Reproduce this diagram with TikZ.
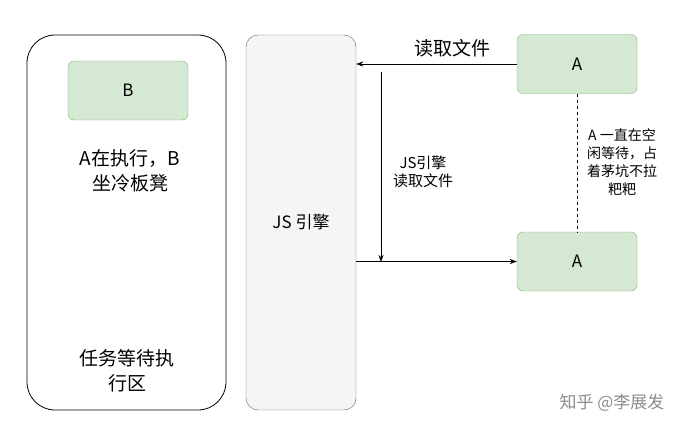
\documentclass[tikz,border=0pt]{standalone}
\usepackage{fontspec}
\setmainfont{Noto Sans CJK SC}
\usetikzlibrary{arrows.meta}
\begin{document}
\begin{tikzpicture}[x=1pt,y=-1pt,
 gbox/.style={rounded corners=6pt,minimum width=120pt,minimum height=59pt,font=\fontsize{17}{20}\selectfont},
 lbl/.style={font=\fontsize{15}{18}\selectfont,align=center},
 arr/.style={-{Stealth[length=7pt,width=5pt]},black}]
\useasboundingbox (0,0) rectangle (697,431);
\definecolor{gf}{HTML}{D5E8D4}\definecolor{gs}{HTML}{82B366}
\tikzset{gbox/.append style={fill=gf,draw=gs}}
\node[draw,rounded corners=28pt,minimum width=199pt,minimum height=375pt,line width=0.8pt] (zone) at (126.5,222.5) {};
\node[gbox] (B) at (128,90.5) {B};
\node[font=\fontsize{19}{25}\selectfont,align=center] (t1) at (130,171) {A在执行，B\\坐冷板凳};
\node[font=\fontsize{19}{25}\selectfont,align=center] (t2) at (127,371) {任务等待执\\行区};
\node[draw=black!60,fill=black!4,rounded corners=12pt,minimum width=110pt,minimum height=375pt,font=\fontsize{17}{20}\selectfont] (js) at (301,222.5) {JS 引擎};
\node[gbox] (A1) at (577,64) {A};
\node[gbox] (A2) at (577,261.5) {A};
\draw[arr] (A1.west) -- (js.east |- A1.west) node[pos=0.4,above=3pt,font=\fontsize{19}{22}\selectfont] {读取文件};
\coordinate (d1) at (381,72); \coordinate (d2) at (381,262);
\draw[arr] (d1) -- (d2);
\node[lbl] (l2) at (423,172) {JS引擎\\读取文件};
\draw[arr] (js.east |- A2.west) -- (A2.west);
\draw[dashed] (A1.south) -- (A2.north);
\node[lbl,font=\fontsize{14}{18}\selectfont] (l3) at (622,162) {A 一直在空\\闲等待，占\\着茅坑不拉\\粑粑};
\node[text=black!45,font=\fontsize{17}{20}\selectfont] (wm) at (612,403) {知乎 @李展发};
\end{tikzpicture}
\end{document}
